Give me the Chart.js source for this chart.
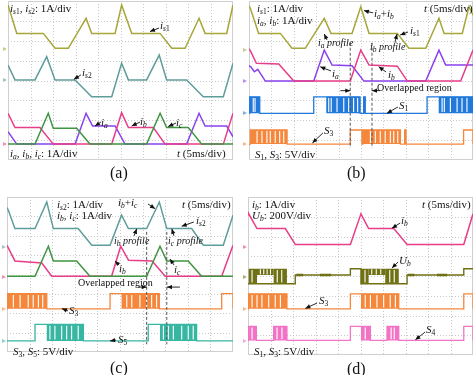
<!DOCTYPE html>
<html><head><meta charset="utf-8">
<script src="https://cdn.jsdelivr.net/npm/chart.js@4.4.0/dist/chart.umd.min.js"></script>
<style>
html,body{margin:0;padding:0;background:#fff;}
#root{position:relative;width:474px;height:375px;overflow:hidden;font-family:"Liberation Serif","Times New Roman",serif;color:#111;}
canvas{position:absolute;}
.lb{position:absolute;font-size:11px;line-height:12px;white-space:nowrap;z-index:5;}
.lb sub{font-size:7.5px;vertical-align:baseline;position:relative;top:2px;}
.sm{font-size:10px;}
.cap{position:absolute;font-size:16px;line-height:16px;z-index:5;}
.mk{position:absolute;width:0;height:0;border-top:2px solid transparent;border-bottom:2px solid transparent;border-left:4px solid #999;opacity:0.6;}
</style></head>
<body><div id="root">
<canvas id="ca"></canvas><canvas id="cb"></canvas><canvas id="cc"></canvas><canvas id="cd"></canvas>

<div class="mk" style="left:3px;top:47px;border-left-color:#a6a63a"></div>
<div class="mk" style="left:3px;top:78px;border-left-color:#5f9d9b"></div>
<div class="mk" style="left:3px;top:142px;border-left-color:#e83d88"></div>
<div class="mk" style="left:243px;top:48px;border-left-color:#a6a63a"></div>
<div class="mk" style="left:243px;top:79px;border-left-color:#8b40ee"></div>
<div class="mk" style="left:243px;top:111px;border-left-color:#2179dc"></div>
<div class="mk" style="left:243px;top:142px;border-left-color:#f5873c"></div>
<div class="mk" style="left:2px;top:245px;border-left-color:#5f9d9b"></div>
<div class="mk" style="left:2px;top:275px;border-left-color:#e83d88"></div>
<div class="mk" style="left:2px;top:307px;border-left-color:#f5873c"></div>
<div class="mk" style="left:2px;top:339px;border-left-color:#37b6a2"></div>
<div class="mk" style="left:243px;top:245px;border-left-color:#e83d88"></div>
<div class="mk" style="left:243px;top:275px;border-left-color:#6f7114"></div>
<div class="mk" style="left:243px;top:307px;border-left-color:#f5873c"></div>
<div class="mk" style="left:243px;top:339px;border-left-color:#f273c6"></div>

<div class="lb" style="left:10px;top:2px"><i>i</i><sub><i>s</i>1</sub>, <i>i</i><sub><i>s</i>2</sub>: 1A/div</div>
<div class="lb" style="left:160px;top:19px"><i>i</i><sub><i>s</i>1</sub></div>
<div class="lb" style="left:82px;top:66px"><i>i</i><sub><i>s</i>2</sub></div>
<div class="lb" style="left:101px;top:116px"><i>i<sub>a</sub></i></div>
<div class="lb" style="left:140px;top:115px"><i>i<sub>b</sub></i></div>
<div class="lb" style="left:176px;top:116px"><i>i<sub>c</sub></i></div>
<div class="lb" style="left:10px;top:147px"><i>i<sub>a</sub></i>, <i>i<sub>b</sub></i>, <i>i<sub>c</sub></i>: 1A/div</div>
<div class="lb" style="left:177px;top:147px"><i>t</i> (5ms/div)</div>
<div class="cap" style="left:110px;top:165px">(a)</div>

<div class="lb" style="left:257px;top:2px"><i>i</i><sub><i>s</i>1</sub>: 1A/div</div>
<div class="lb" style="left:257px;top:14px"><i>i<sub>a</sub></i>, <i>i<sub>b</sub></i>: 1A/div</div>
<div class="lb" style="left:424px;top:2px"><i>t</i> (5ms/div)</div>
<div class="lb" style="left:374px;top:7px"><i>i<sub>a</sub></i>+<i>i<sub>b</sub></i></div>
<div class="lb" style="left:410px;top:24px"><i>i</i><sub><i>s</i>1</sub></div>
<div class="lb sm" style="left:318px;top:37px"><i>i<sub>a</sub> profile</i></div>
<div class="lb sm" style="left:370px;top:41px"><i>i<sub>b</sub> profile</i></div>
<div class="lb" style="left:332px;top:67px"><i>i<sub>a</sub></i></div>
<div class="lb" style="left:388px;top:68px"><i>i<sub>b</sub></i></div>
<div class="lb sm" style="left:377px;top:82px">Overlapped region</div>
<div class="lb" style="left:399px;top:99px"><i>S</i><sub>1</sub></div>
<div class="lb" style="left:324px;top:124px"><i>S</i><sub>3</sub></div>
<div class="lb" style="left:255px;top:148px"><i>S</i><sub>1</sub>, <i>S</i><sub>3</sub>: 5V/div</div>
<div class="cap" style="left:347px;top:165px">(b)</div>

<div class="lb" style="left:57px;top:198px"><i>i</i><sub><i>s</i>2</sub>: 1A/div</div>
<div class="lb" style="left:57px;top:209px"><i>i<sub>b</sub></i>, <i>i<sub>c</sub></i>: 1A/div</div>
<div class="lb" style="left:118px;top:196px"><i>i<sub>b</sub></i>+<i>i<sub>c</sub></i></div>
<div class="lb" style="left:182px;top:198px"><i>t</i> (5ms/div)</div>
<div class="lb" style="left:196px;top:214px"><i>i</i><sub><i>s</i>2</sub></div>
<div class="lb sm" style="left:114px;top:235px"><i>i<sub>b</sub> profile</i></div>
<div class="lb sm" style="left:168px;top:235px"><i>i<sub>c</sub> profile</i></div>
<div class="lb" style="left:119px;top:262px"><i>i<sub>b</sub></i></div>
<div class="lb" style="left:174px;top:263px"><i>i<sub>c</sub></i></div>
<div class="lb sm" style="left:78px;top:277px">Overlapped region</div>
<div class="lb" style="left:69px;top:304px"><i>S</i><sub>3</sub></div>
<div class="lb" style="left:118px;top:333px"><i>S</i><sub>5</sub></div>
<div class="lb" style="left:13px;top:345px"><i>S</i><sub>3</sub>, <i>S</i><sub>5</sub>: 5V/div</div>
<div class="cap" style="left:110px;top:360px">(c)</div>

<div class="lb" style="left:252px;top:198px"><i>i<sub>b</sub></i>: 1A/div</div>
<div class="lb" style="left:252px;top:209px"><i>U<sub>b</sub></i>: 200V/div</div>
<div class="lb" style="left:422px;top:198px"><i>t</i> (5ms/div)</div>
<div class="lb" style="left:401px;top:214px"><i>i<sub>b</sub></i></div>
<div class="lb" style="left:399px;top:254px"><i>U<sub>b</sub></i></div>
<div class="lb" style="left:319px;top:294px"><i>S</i><sub>3</sub></div>
<div class="lb" style="left:426px;top:323px"><i>S</i><sub>4</sub></div>
<div class="lb" style="left:254px;top:345px"><i>S</i><sub>1</sub>, <i>S</i><sub>3</sub>: 5V/div</div>
<div class="cap" style="left:347px;top:361px">(d)</div>
</div>
<script>
// ---------- time axis: 10 divisions (5 ms/div), vertical 8 divisions ----------
const tDivs = 10, vDivs = 8;

// ---------- Panel (a) ----------
const aIs1T = [0, 0.39, 1.57, 2.09, 2.68, 3.47, 3.72, 4.76, 5.05, 5.5, 6.76, 7.28, 7.87, 8.49, 8.76, 9.72, 10];
const aIs1V = [7.8, 6.37, 6.37, 5.62, 5.62, 7.13, 6.37, 6.37, 7.8, 6.37, 6.37, 5.62, 5.62, 7.13, 6.37, 6.37, 7.8];
const aIs2T = [0, 0.31, 1.2, 1.72, 2.09, 2.98, 3.72, 4.61, 5.05, 5.35, 6.16, 6.72, 7.05, 7.94, 8.68, 9.57, 10];
const aIs2V = [4.78, 4.03, 4.03, 5.2, 4.03, 4.03, 3.18, 3.18, 4.87, 4.03, 4.03, 5.28, 4.03, 4.03, 3.18, 3.18, 4.87];
const aIaT = [0, 0.39, 2.98, 3.47, 3.76, 4.76, 5.2, 7.94, 8.49, 8.76, 9.72, 10];
const aIaV = [1.42, 0.8, 0.8, 2.35, 1.71, 1.71, 0.8, 0.8, 2.35, 1.71, 1.71, 1.17];
const aIbT = [0, 0.31, 1.42, 2.01, 4.61, 5.05, 5.35, 6.46, 6.98, 9.57, 10];
const aIbV = [2.35, 1.63, 1.63, 0.8, 0.8, 2.38, 1.63, 1.63, 0.8, 0.8, 2.35];
const aIcT = [0, 1.2, 1.79, 2.01, 3.05, 3.64, 6.16, 6.76, 7.05, 8.01, 8.61, 10];
const aIcV = [0.8, 0.8, 2.35, 1.6, 1.6, 0.8, 0.8, 2.35, 1.63, 1.63, 0.8, 0.8];

// ---------- Panel (b) ----------
const bIs1T = [0, 0.06, 0.43, 1.40, 1.92, 2.51, 3.36, 3.66, 4.6, 4.99, 5.36, 6.62, 7.14, 7.89, 8.48, 8.71, 9.52, 9.82, 10];
const bIs1V = [7.75, 7.63, 6.37, 6.37, 5.62, 5.62, 7.13, 6.37, 6.37, 7.71, 6.37, 6.37, 5.62, 5.62, 7.13, 6.37, 6.37, 7.71, 7.3];
const bIaT = [0, 0.08, 0.24, 0.39, 0.73, 2.89, 3.36, 3.71, 4.6, 5.13, 7.89, 8.48, 8.78, 10];
const bIaV = [4.75, 4.69, 4.44, 4.56, 3.97, 3.97, 5.53, 4.78, 4.74, 3.97, 3.97, 5.53, 4.78, 4.78];
const bIbT = [0, 0.08, 0.33, 1.33, 2.0, 4.52, 4.99, 5.36, 6.62, 7.07, 9.45, 10];
const bIbV = [5.6, 5.45, 4.87, 4.83, 3.97, 3.97, 5.53, 4.78, 4.72, 3.97, 3.97, 5.53];
const bS1Lvl = [2.35, 3.18];
const bS1Clean = [[2.89, 3.45], [7.95, 8.47]];
const bS1Dense = [[0.03, 0.48], [3.45, 4.96], [5.12, 5.19], [8.47, 10]];
const bS1Gaps = [0.19, 0.27, 3.56, 3.67, 3.93, 4.23, 4.45, 4.67, 4.85, 8.62, 8.72, 8.99, 9.29, 9.51, 9.73];
const bS3Lvl = [0.8, 1.51];
const bS3Clean = [[4.52, 5.04], [9.58, 10]];
const bS3Dense = [[0.06, 1.70], [5.09, 6.76], [6.95, 7.01]];
const bS3Gaps = [0.36, 0.58, 0.80, 0.95, 1.17, 1.37, 1.55, 5.42, 5.64, 5.86, 6.08, 6.31, 6.46, 6.64];
const bOverlap = [4.52, 5.49];

// ---------- Panel (c) ----------
const cIs2T = [0, 0.06, 0.35, 1.24, 1.76, 2.05, 3.15, 3.75, 4.56, 5.07, 5.37, 6.18, 6.74, 7.07, 8.17, 8.69, 9.57, 10];
const cIs2V = [7.45, 7.31, 6.37, 6.37, 7.74, 6.37, 6.37, 5.51, 5.51, 7.06, 6.37, 6.37, 7.74, 6.37, 6.37, 5.51, 5.51, 7.06];
const cIbT = [0, 0.35, 1.54, 1.98, 4.63, 5.03, 5.38, 6.42, 7.0, 9.5, 10];
const cIbV = [5.51, 4.70, 4.59, 3.91, 3.91, 5.46, 4.73, 4.70, 3.91, 3.91, 5.51];
const cIcT = [0, 1.24, 1.83, 2.05, 3.08, 3.67, 6.18, 6.77, 7.07, 8.02, 8.61, 10];
const cIcV = [3.91, 3.91, 5.46, 4.70, 4.70, 3.91, 3.91, 5.46, 4.70, 4.70, 3.91, 3.91];
const cS3Lvl = [2.23, 3.01];
const cS3Clean = [[4.56, 5.07], [9.5, 10]];
const cS3Dense = [[0.01, 1.76], [5.07, 6.74]];
const cS3Gaps = [0.28, 0.58, 0.94, 1.16, 1.39, 1.58, 5.3, 5.52, 5.88, 6.18, 6.4, 6.62];
const cS5Lvl = [0.57, 1.43];
const cS5Clean = [[1.24, 1.76], [6.25, 6.77]];
const cS5Dense = [[1.76, 3.38], [6.77, 8.39]];
const cS5Gaps = [1.9, 2.12, 2.42, 2.64, 2.86, 3.15, 6.92, 7.14, 7.36, 7.73, 8.02, 8.24];
const cOverlap = [6.18, 7.07];

// ---------- Panel (d) ----------
const dIbT = [0, 0.03, 0.4, 1.66, 2.1, 4.55, 5.02, 5.36, 6.48, 7.07, 9.59, 10];
const dIbV = [7.1, 7.15, 6.4, 6.4, 5.6, 5.6, 7.15, 6.4, 6.4, 5.6, 5.6, 7.15];
const dUbLvl = [3.61, 4.05, 4.37];
const dUbT = [0, 1.73, 2.1, 2.1, 4.55, 4.55, 5.02, 5.02, 6.7, 7.07, 7.07, 9.59, 9.59, 10];
const dUbV = [3.61, 3.61, 3.61, 4.05, 4.05, 4.37, 4.37, 3.61, 3.61, 3.61, 4.05, 4.05, 4.37, 4.37];
const dUbFull = [[0.03, 0.4], [1.14, 1.73], [5.02, 5.36], [6.1, 6.7]];
const dUbUpper = [[0.4, 1.14], [5.36, 6.1]];
const dUbNoise = [[2.15, 2.45], [3.2, 3.7], [7.1, 7.4], [8.4, 8.85]];
const dUbGaps = [0.18, 1.3, 1.5, 5.2, 6.3, 6.5];
const dUbUpperGaps = [0.55, 0.7, 0.85, 1.0, 5.5, 5.7, 5.9];
const dS3Lvl = [2.34, 3.10];
const dS3Clean = [[4.55, 5.02], [9.59, 10]];
const dS3Dense = [[0.03, 1.73], [5.02, 6.7]];
const dS3Gaps = [0.18, 0.4, 0.62, 0.92, 1.21, 1.44, 5.21, 5.44, 5.73, 6.03, 6.32, 6.55];
const dS4Lvl = [0.74, 1.45];
const dS4Clean = [[4.55, 5.02], [9.59, 10]];
const dS4Dense = [[0.03, 0.37], [1.14, 1.73], [5.02, 5.44], [6.18, 6.7]];
const dS4Gaps = [0.18, 1.29, 1.51, 5.21, 6.36, 6.5];

// ---------- colours ----------
const C = {is1:'#a6a63a', is2:'#5f9d9b', ia:'#8b40ee', ib:'#e83d88', ic:'#3f9541',
  s1:'#2179dc', s3:'#f5873c', s5:'#37b6a2', s4:'#f273c6', ub:'#6f7114', ov:'#555'};

// ---------- builders ----------
function trace(T, V, color, w){
  return {data: T.map((t,i)=>({x:t, y:V[i]})), borderColor: color, borderWidth: w||1.5, fill:false, order:1};
}
function merge(list){
  const s = list.slice().sort((p,q)=>p[0]-q[0]); const out=[];
  s.forEach(iv=>{ if(out.length && iv[0] <= out[out.length-1][1]+0.001){ out[out.length-1][1]=Math.max(out[out.length-1][1],iv[1]); } else out.push([iv[0],iv[1]]); });
  return out;
}
function pulses(iv, lo, hi){
  const p=[{x:0,y:lo}];
  iv.forEach(([a,b])=>{ p.push({x:a,y:lo},{x:a,y:hi},{x:b,y:hi},{x:b,y:lo}); });
  p.push({x:10,y:lo}); return p;
}
function block(iv, lo, hi, color, order){
  return {data:pulses(iv, lo, hi), borderWidth:0, borderColor:'rgba(0,0,0,0)', backgroundColor:color, fill:{value:lo}, order: order||4};
}
function gapLines(G, lo, hi){
  const p=[]; const e=(hi-lo)*0.08;
  G.forEach(g=>{ p.push({x:g,y:lo+e},{x:g,y:hi-e},{x:g,y:null}); });
  return {data:p, borderColor:'#ffffff', borderWidth:1.1, fill:false, spanGaps:false, order:2};
}
function switching(clean, dense, gaps, lvl, color){
  return [
    {data:pulses(merge(clean.concat(dense)), lvl[0], lvl[1]), borderColor:color, borderWidth:1.3, fill:false, order:1},
    block(dense, lvl[0], lvl[1], color, 4),
    gapLines(gaps, lvl[0], lvl[1])
  ];
}
function overlapLines(ts, y0, y1){
  const p=[]; ts.forEach(t=>{ p.push({x:t,y:y0},{x:t,y:y1},{x:t,y:null}); });
  return {data:p, borderColor:C.ov, borderWidth:1, borderDash:[3,2], fill:false, spanGaps:false, order:0};
}

// ---------- plugins ----------
const gridPlugin = {
  id:'scopeGrid',
  beforeDatasetsDraw(chart){
    const {ctx, chartArea:a, scales:{x, y}} = chart;
    ctx.save();
    ctx.strokeStyle='#c9c9c9'; ctx.lineWidth=1; ctx.setLineDash([1,2]);
    for(let i=1;i<tDivs;i++){ const px=Math.round(x.getPixelForValue(i))+0.5; ctx.beginPath(); ctx.moveTo(px,a.top); ctx.lineTo(px,a.bottom); ctx.stroke(); }
    for(let j=1;j<vDivs;j++){ const py=Math.round(y.getPixelForValue(j))+0.5; ctx.beginPath(); ctx.moveTo(a.left,py); ctx.lineTo(a.right,py); ctx.stroke(); }
    ctx.setLineDash([]); ctx.strokeStyle='#cfcfcf';
    ctx.strokeRect(a.left+0.5, a.top+0.5, a.right-a.left-1, a.bottom-a.top-1);
    ctx.restore();
  }
};
const arrowPlugin = {
  id:'arrows',
  afterDatasetsDraw(chart, args, opts){
    const {ctx, scales:{x, y}} = chart;
    ctx.save(); ctx.strokeStyle='#111'; ctx.fillStyle='#111'; ctx.lineWidth=0.9;
    (opts.list||[]).forEach(ar=>{
      const x0=x.getPixelForValue(ar[0]), y0=y.getPixelForValue(ar[1]);
      const x1=x.getPixelForValue(ar[2]), y1=y.getPixelForValue(ar[3]);
      const ang=Math.atan2(y1-y0, x1-x0), L=5, W=2.2;
      ctx.beginPath(); ctx.moveTo(x0,y0); ctx.lineTo(x1,y1); ctx.stroke();
      ctx.beginPath(); ctx.moveTo(x1,y1);
      ctx.lineTo(x1-L*Math.cos(ang)+W*Math.sin(ang), y1-L*Math.sin(ang)-W*Math.cos(ang));
      ctx.lineTo(x1-L*Math.cos(ang)-W*Math.sin(ang), y1-L*Math.sin(ang)+W*Math.cos(ang));
      ctx.closePath(); ctx.fill();
    });
    ctx.restore();
  }
};

function makeChart(id, box, datasets, arrows){
  const c=document.getElementById(id);
  c.style.left=box[0]+'px'; c.style.top=box[1]+'px';
  c.width=box[2]-box[0]; c.height=box[3]-box[1];
  new Chart(c, {type:'line', data:{datasets},
    options:{responsive:false, animation:false, events:[], layout:{padding:0},
      scales:{x:{type:'linear', min:0, max:tDivs, display:false}, y:{type:'linear', min:0, max:vDivs, display:false}},
      elements:{point:{radius:0}, line:{tension:0}},
      plugins:{legend:{display:false}, tooltip:{enabled:false}, arrows:{list:arrows}}},
    plugins:[gridPlugin, arrowPlugin]});
}

// ---------- annotation arrows [fromT, fromY, toT, toY] ----------
const aArrows = [[6.71,6.64,6.31,6.46],[3.24,4.28,2.93,4.06],[4.13,1.91,3.87,1.71],[5.87,1.91,5.5,1.71],[7.47,1.86,7.12,1.68]];
const bArrows = [[5.54,7.4,5.13,7.52],[7.1,6.44,6.75,6.29],[3.48,6.04,3.36,6.34],[6.52,5.94,6.61,6.34],
  [3.66,4.48,3.18,4.69],[6.12,4.43,5.79,4.69],[6.65,2.67,6.16,2.35],[3.3,1.36,2.83,0.86],[4.08,3.49,4.52,3.49],[5.85,3.49,5.49,3.49]];
const cArrows = [[6.24,7.64,6.55,7.4],[8.27,6.71,7.73,6.49],[5.62,5.99,5.74,6.36],[7.39,5.99,7.29,6.36],
  [4.96,4.49,4.78,4.7],[7.39,4.49,7.21,4.8],[5.8,3.35,6.18,3.35],[7.65,3.35,7.08,3.35],[2.7,2.12,2.43,2.24],[4.82,0.62,4.56,0.57]];
const dArrows = [[6.76,6.68,6.4,6.42],[6.67,4.71,6.4,4.4],[3.07,2.63,2.55,2.36],[7.87,1.16,7.44,0.77]];

makeChart('ca', [8,1,233,160], [
  trace(aIs1T,aIs1V,C.is1), trace(aIs2T,aIs2V,C.is2),
  trace(aIcT,aIcV,C.ic), trace(aIbT,aIbV,C.ib), trace(aIaT,aIaV,C.ia)
], aArrows);

makeChart('cb', [249,1,473,160], [
  trace(bIs1T,bIs1V,C.is1), trace(bIbT,bIbV,C.ib), trace(bIaT,bIaV,C.ia),
  ...switching(bS1Clean,bS1Dense,bS1Gaps,bS1Lvl,C.s1),
  ...switching(bS3Clean,bS3Dense,bS3Gaps,bS3Lvl,C.s3),
  overlapLines(bOverlap, 5.9, 0.6)
], bArrows);

makeChart('cc', [7,197,233,352], [
  trace(cIs2T,cIs2V,C.is2), trace(cIcT,cIcV,C.ic), trace(cIbT,cIbV,C.ib),
  ...switching(cS3Clean,cS3Dense,cS3Gaps,cS3Lvl,C.s3),
  ...switching(cS5Clean,cS5Dense,cS5Gaps,cS5Lvl,C.s5),
  overlapLines(cOverlap, 6.2, 0.4)
], cArrows);

makeChart('cd', [248,197,473,355], [
  trace(dIbT,dIbV,C.ib),
  trace(dUbT,dUbV,C.ub,1.4),
  block(dUbFull, dUbLvl[0], dUbLvl[2], C.ub, 4),
  block(dUbUpper, dUbLvl[1], dUbLvl[2], C.ub, 4),
  block(dUbNoise, 3.99, 4.11, C.ub, 4),
  gapLines(dUbGaps, dUbLvl[0], dUbLvl[2]),
  gapLines(dUbUpperGaps, dUbLvl[1], dUbLvl[2]),
  ...switching(dS3Clean,dS3Dense,dS3Gaps,dS3Lvl,C.s3),
  ...switching(dS4Clean,dS4Dense,dS4Gaps,dS4Lvl,C.s4)
], dArrows);
</script>
</body></html>
